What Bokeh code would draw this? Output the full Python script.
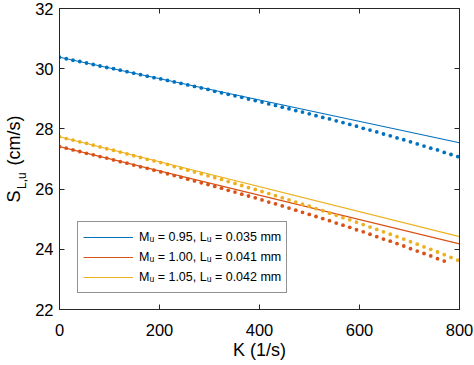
from bokeh.plotting import figure
from bokeh.models import Range1d, FixedTicker, LinearAxis, Legend, LegendItem
from bokeh.embed import file_html
from bokeh.resources import INLINE

# ---- data ----
k_line = [0, 800]
blue_line = [30.38, 27.54]
red_line = [27.41, 24.18]
yellow_line = [27.74, 24.42]

k_dots = [0, 13.5, 27, 40.5, 54, 67.5, 81, 94.5, 108, 121.5,
          135, 148.5, 162, 175.5, 189, 202.5, 216, 229.5, 243, 256.5,
          270, 283.5, 297, 310.5, 324, 337.5, 351, 364.5, 378, 391.5,
          405, 418.5, 432, 445.5, 459, 472.5, 486, 499.5, 513, 526.5,
          540, 553.5, 567, 580.5, 594, 607.5, 621, 634.5, 648, 661.5,
          675, 688.5, 702, 715.5, 729, 742.5, 756, 769.5, 783, 796.5]

blue_dots = [30.38, 30.33, 30.28, 30.24, 30.19, 30.14, 30.09, 30.04, 30.00, 29.95,
             29.90, 29.85, 29.80, 29.75, 29.70, 29.66, 29.61, 29.56, 29.51, 29.46,
             29.41, 29.36, 29.31, 29.25, 29.20, 29.15, 29.10, 29.05, 28.99, 28.94,
             28.89, 28.83, 28.78, 28.72, 28.67, 28.61, 28.56, 28.50, 28.44, 28.38,
             28.33, 28.27, 28.21, 28.15, 28.09, 28.02, 27.96, 27.90, 27.83, 27.77,
             27.70, 27.64, 27.57, 27.50, 27.43, 27.36, 27.30, 27.22, 27.15, 27.08]

red_dots = [27.41, 27.36, 27.30, 27.25, 27.19, 27.14, 27.08, 27.03, 26.97, 26.91,
            26.86, 26.80, 26.74, 26.69, 26.63, 26.57, 26.51, 26.45, 26.39, 26.33,
            26.27, 26.21, 26.15, 26.09, 26.03, 25.96, 25.90, 25.83, 25.77, 25.71,
            25.64, 25.57, 25.51, 25.44, 25.37, 25.30, 25.23, 25.16, 25.09, 25.02,
            24.95, 24.87, 24.80, 24.73, 24.65, 24.58, 24.50, 24.42, 24.34, 24.27,
            24.19, 24.11, 24.02, 23.94, 23.86, 23.78, 23.69, 23.61]

yellow_dots = [27.74, 27.68, 27.63, 27.57, 27.52, 27.46, 27.40, 27.34, 27.29, 27.23,
               27.17, 27.11, 27.05, 26.99, 26.94, 26.88, 26.82, 26.75, 26.69, 26.63,
               26.57, 26.51, 26.44, 26.38, 26.32, 26.25, 26.19, 26.12, 26.05, 25.99,
               25.92, 25.85, 25.78, 25.71, 25.64, 25.57, 25.50, 25.43, 25.35, 25.28,
               25.20, 25.13, 25.05, 24.98, 24.90, 24.82, 24.74, 24.66, 24.58, 24.50,
               24.42, 24.34, 24.25, 24.17, 24.08, 24.00, 23.91, 23.82, 23.73, 23.64]

labels = ["M\u1d64 = 0.95, L\u1d64 = 0.035 mm",
          "M\u1d64 = 1.00, L\u1d64 = 0.041 mm",
          "M\u1d64 = 1.05, L\u1d64 = 0.042 mm"]

x_ticks = [0, 200, 400, 600, 800]
y_ticks = [22, 24, 26, 28, 30, 32]

# y-axis title S_{L,u} (cm/s): main part and subscript part
NB = "\u00a0"
ytitle_main = "S" + NB * 5 + "(cm/s)"
ytitle_sub = "L,u" + NB * 13

BLUE, RED, YELLOW = "#0072BD", "#D95319", "#EDB120"
INK = "#262626"
FONT = "Liberation Sans"

p = figure(width=474, height=365, output_backend="svg", toolbar_location=None,
           x_range=Range1d(0, 800), y_range=Range1d(22, 32),
           min_border_left=59, min_border_right=15, min_border_top=8,
           min_border_bottom=56, background_fill_color="white",
           border_fill_color="white")
p.grid.visible = False
p.outline_line_color = INK
p.outline_line_width = 1

def style_axis(ax, ticks, show_labels=True):
    ax.ticker = FixedTicker(ticks=ticks)
    ax.major_tick_in = 5
    ax.major_tick_out = 0
    ax.minor_tick_line_color = None
    ax.axis_line_color = INK
    ax.major_tick_line_color = INK
    ax.major_label_text_font = FONT
    ax.major_label_text_color = "black"
    if show_labels:
        ax.major_label_text_font_size = "16.5px"
    else:
        ax.major_label_overrides = {tk: "" for tk in ticks}
        ax.major_label_text_font_size = "1px"
        ax.major_label_standoff = 0

style_axis(p.xaxis[0], x_ticks)
style_axis(p.yaxis[0], y_ticks)
p.xaxis.major_label_standoff = 14
p.yaxis.major_label_standoff = 6
p.xaxis.axis_label = "K (1/s)"
p.xaxis.axis_label_text_font = FONT
p.xaxis.axis_label_text_font_size = "18px"
p.xaxis.axis_label_text_font_style = "normal"
p.xaxis.axis_label_text_color = "black"
p.xaxis.axis_label_standoff = 1

# subscript part of the y title on the main y axis
p.yaxis.axis_label = ytitle_sub
p.yaxis.axis_label_text_font = FONT
p.yaxis.axis_label_text_font_size = "12px"
p.yaxis.axis_label_text_font_style = "normal"
p.yaxis.axis_label_text_color = "black"
p.yaxis.axis_label_standoff = 3

# main part of the y title on an extra, tick-less left axis
ytitle_axis = LinearAxis(ticker=FixedTicker(ticks=[]), axis_line_color=None,
                         major_tick_line_color=None, minor_tick_line_color=None,
                         major_tick_in=0, major_tick_out=0, major_label_standoff=0,
                         axis_label=ytitle_main, axis_label_text_font=FONT,
                         axis_label_text_font_size="18px",
                         axis_label_text_font_style="normal",
                         axis_label_text_color="black", axis_label_standoff=-11)
p.add_layout(ytitle_axis, "left")

top = LinearAxis()
style_axis(top, x_ticks, show_labels=False)
p.add_layout(top, "above")
right = LinearAxis()
style_axis(right, y_ticks, show_labels=False)
p.add_layout(right, "right")

rb = p.line(k_line, blue_line, line_color=BLUE, line_width=1.2)
rr = p.line(k_line, red_line, line_color=RED, line_width=1.2)
ry = p.line(k_line, yellow_line, line_color=YELLOW, line_width=1.2)

p.scatter(k_dots, blue_dots, size=3.8, fill_color=BLUE, line_color=None)
p.scatter(k_dots[:len(red_dots)], red_dots, size=3.8, fill_color=RED, line_color=None)
p.scatter(k_dots, yellow_dots, size=3.8, fill_color=YELLOW, line_color=None)

legend = Legend(items=[LegendItem(label=labels[0], renderers=[rb]),
                       LegendItem(label=labels[1], renderers=[rr]),
                       LegendItem(label=labels[2], renderers=[ry])],
                location=(18, 16), border_line_color=INK, border_line_width=1,
                background_fill_color="white", background_fill_alpha=1.0,
                padding=5, spacing=0, margin=0, glyph_width=50, glyph_height=20,
                label_height=20, label_standoff=6, label_text_font=FONT,
                label_text_font_size="12.5px", label_text_color="black")
p.add_layout(legend)

open("out.html", "w").write(file_html(p, INLINE))
